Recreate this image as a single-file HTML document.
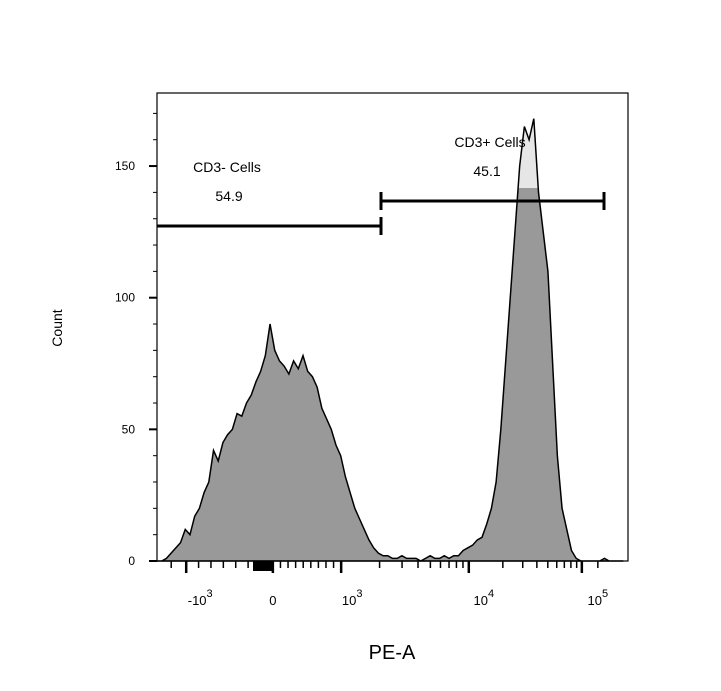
<!DOCTYPE html>
<html><head><meta charset="utf-8"><style>
body{margin:0;background:#fff;}
svg text{font-family:"Liberation Sans",sans-serif;fill:#000;}
</style></head><body>
<svg width="721" height="686">
<g id="g"></g>
</svg>
<script>
const counts=[0,0,1,3,5,7,12,10,17,20,26,30,42,38,45,48,50,56,55,60,63,68,72,78,90,80,76,74,71,76,73,78,72,70,66,58,54,50,44,40,32,26,20,16,12,8,5,3,2,2,1,1,2,1,1,1,0,1,2,1,1,2,1,2,2,4,5,6,8,9,14,20,30,50,75,100,125,150,165,160,168,140,125,110,75,40,20,12,4,1,0,0,0,0,0,1,0,0,0,0];
const channels=counts.map((c,i)=>i*10);
const yTicks=[0,50,100,150];
const xTickLabels=[["-10","3"],["0",""],["10","3"],["10","4"],["10","5"]];
const xTickChannels=[62,246,391,662,902];
const L=157,R=628,T=93,B=561;
const xs=ch=>L+ch*(R-L)/1000;
const ys=v=>B-v*2.633;
const ns="http://www.w3.org/2000/svg";
const g=document.getElementById('g');
function el(t,a,p){const e=document.createElementNS(ns,t);for(const k in a)e.setAttribute(k,a[k]);(p||g).appendChild(e);return e;}
let d=`M${xs(channels[0])},${B}`;
channels.forEach((c,i)=>{d+=` L${xs(c)},${ys(counts[i])}`;});
d+=` L${xs(channels[channels.length-1])},${B} Z`;
const defs=el('defs',{});
const cp1=el('clipPath',{id:'lo'},defs);el('rect',{x:L,y:188,width:R-L,height:B-188},cp1);
const cp2=el('clipPath',{id:'hi'},defs);el('rect',{x:L,y:T,width:R-L,height:188-T},cp2);
const a1=el('path',{d:d,fill:'#e6e6e6','clip-path':'url(#hi)'});


const a2=el('path',{d:d,fill:'#999','clip-path':'url(#lo)'});


const ln=el('path',{d:d,fill:'none',stroke:'#000','stroke-width':1.5});


const fr=el('rect',{x:L,y:T,width:R-L,height:B-T,fill:'none',stroke:'#000','stroke-width':1.2});


for(let v=0;v<=170;v+=10){const maj=v%50===0;el('line',{x1:L-(maj?8:4),x2:L,y1:ys(v),y2:ys(v),stroke:'#000','stroke-width':maj?2:1});}
yTicks.forEach(v=>{const t=el('text',{x:L-22,y:ys(v)+4,'font-size':12,'text-anchor':'end'});t.textContent=v;

});
const offs=[14,0,11,15,16];
xTickChannels.forEach((c,i)=>{el('line',{x1:xs(c),x2:xs(c),y1:B,y2:B+12,stroke:'#000','stroke-width':2.5});
const t=el('text',{x:xs(c)+offs[i],y:B+44,'font-size':13,'text-anchor':'middle'});t.textContent=xTickLabels[i][0];
if(xTickLabels[i][1]){const s=el('tspan',{dy:-8,'font-size':11},t);s.textContent=xTickLabels[i][1];}

});
// minor ticks
const x3=xs(xTickChannels[2]),x4=xs(xTickChannels[3]),x5=xs(xTickChannels[4]),xn=xs(xTickChannels[0]),x0=xs(xTickChannels[1]);
const mp=[];
for(let k=1;k<=6;k++)mp.push(xn+k*(x0-xn)/7);
for(let k=1;k<=8;k++)mp.push(x0+k*(x3-x0)/9);
for(let k=2;k<=9;k++){mp.push(x3+(x4-x3)*Math.log10(k));mp.push(x4+(x5-x4)*Math.log10(k));}
mp.push(xn-15);mp.push(x5+16);
mp.forEach(x=>el('line',{x1:x,x2:x,y1:B,y2:B+7,stroke:'#000','stroke-width':1.5}));
el('rect',{x:253,y:B,width:20,height:10,fill:'#000'});
function gate(x1,x2,y,ticks,name){const gg=el('g',{});
el('line',{x1:x1,x2:x2,y1:y,y2:y,stroke:'#000','stroke-width':3},gg);
ticks.forEach(x=>el('line',{x1:x,x2:x,y1:y-9,y2:y+9,stroke:'#000','stroke-width':3},gg));}
gate(L,381,226,[381],'cd3-neg-gate');
gate(381,604,201,[381,604],'cd3-pos-gate');
function txt(s,x,y,sz,name,extra){const t=el('text',Object.assign({x:x,y:y,'font-size':sz,'text-anchor':'middle'},extra||{}));t.textContent=s;return t;}
txt('CD3- Cells',227,172,14,'cd3-neg-label');
txt('54.9',229,201,14,'cd3-neg-value');
txt('CD3+ Cells',490,147,14,'cd3-pos-label');
txt('45.1',487,176,14,'cd3-pos-value');
txt('Count',62,328,14,'y-axis-title',{transform:'rotate(-90 62 328)'});
txt('PE-A',392,659,20,'x-axis-title');
</script>
</body></html>
